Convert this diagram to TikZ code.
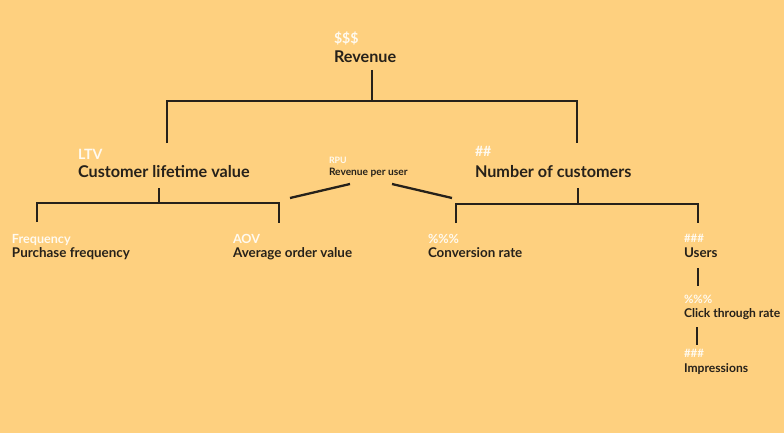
\documentclass[tikz,border=0pt]{standalone}
\usepackage{fontspec}
\setmainfont{Lato}
\definecolor{bg}{RGB}{254,208,127}
\definecolor{ink}{RGB}{38,33,26}
\definecolor{tag}{RGB}{255,250,240}
\begin{document}
\begin{tikzpicture}[x=1pt,y=-1pt,
  every node/.style={inner sep=0pt,outer sep=0pt,anchor=base west},
  big/.style={font=\fontsize{16.2}{18}\selectfont\bfseries,text=ink},
  bigtag/.style={font=\fontsize{14.2}{16}\selectfont\bfseries,text=tag},
  mid/.style={font=\fontsize{13.4}{15}\selectfont\bfseries,text=ink},
  midtag/.style={font=\fontsize{12.6}{14}\selectfont\bfseries,text=tag},
  low/.style={font=\fontsize{12.1}{14}\selectfont\bfseries,text=ink},
  lowtag/.style={font=\fontsize{11.5}{13}\selectfont\bfseries,text=tag},
  small/.style={font=\fontsize{10.2}{12}\selectfont\bfseries,text=ink},
  smalltag/.style={font=\fontsize{8.8}{10}\selectfont\bfseries,text=tag},
  link/.style={draw=ink,line width=2.3pt,line cap=butt,line join=miter}]
\fill[bg] (0,0) rectangle (784,433);
\useasboundingbox (0,0) rectangle (784,433);
% texts
\node[bigtag] (revT) at (334,44) {\$\$\$};
\node[big] (rev) at (334,62.5) {Revenue};
\node[bigtag] (ltvT) at (78,159) {LTV};
\node[big] (ltv) at (78,177.5) {Customer lifetime value};
\node[smalltag] (rpuT) at (329,163.5) {RPU};
\node[small] (rpu) at (329,175) {Revenue per user};
\node[bigtag] (numT) at (475,157) {\#\#};
\node[big] (num) at (475,177.5) {Number of customers};
\node[midtag] (freqT) at (12,243.5) {Frequency};
\node[mid] (freq) at (12,257.5) {Purchase frequency};
\node[midtag] (aovT) at (233,243.5) {AOV};
\node[mid] (aov) at (233,257.5) {Average order value};
\node[midtag] (convT) at (428,243.5) {\%\%\%};
\node[mid] (conv) at (428,257.5) {Conversion rate};
\node[lowtag] (usrT) at (684,242.5) {\#\#\#};
\node[mid] (usr) at (684,257.5) {Users};
\node[lowtag] (ctrT) at (684,303) {\%\%\%};
\node[low] (ctr) at (684,317.5) {Click through rate};
\node[lowtag] (impT) at (684,357) {\#\#\#};
\node[low] (imp) at (684,372) {Impressions};
% connector coordinates
\coordinate (r0) at (372,70);
\coordinate (r1) at (372,101);
\coordinate (rl) at (167,101);
\coordinate (rr) at (577,101);
\coordinate (rlb) at (167,143);
\coordinate (rrb) at (577,143);
\coordinate (l0) at (159,188);
\coordinate (l1) at (159,203);
\coordinate (ll) at (37,203);
\coordinate (lr) at (279,203);
\coordinate (llb) at (37,222);
\coordinate (lrb) at (279,223);
\coordinate (n0) at (578,188);
\coordinate (n1) at (578,204);
\coordinate (nl) at (456,204);
\coordinate (nr) at (698,204);
\coordinate (nlb) at (456,223);
\coordinate (nrb) at (698,223);
\coordinate (u0) at (698,268);
\coordinate (u1) at (698,286);
\coordinate (c0) at (697,327);
\coordinate (c1) at (697,345);
\coordinate (p0) at (290,198);
\coordinate (p1) at (350,184);
\coordinate (q0) at (392,184);
\coordinate (q1) at (452,198);
% connectors
\draw[link] (r0) -- (r1);
\draw[link] (rlb) -- (rl) -- (rr) -- (rrb);
\draw[link] (l0) -- (l1);
\draw[link] (llb) -- (ll) -- (lr) -- (lrb);
\draw[link] (n0) -- (n1);
\draw[link] (nlb) -- (nl) -- (nr) -- (nrb);
\draw[link] (u0) -- (u1);
\draw[link] (c0) -- (c1);
\draw[link] (p0) -- (p1);
\draw[link] (q0) -- (q1);
\end{tikzpicture}
\end{document}
